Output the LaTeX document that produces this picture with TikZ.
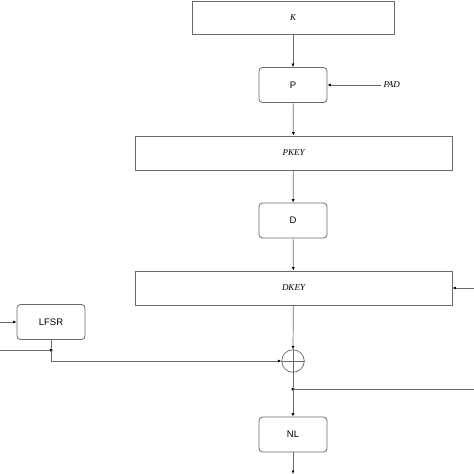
\documentclass[tikz,border=0pt]{standalone}
\usepackage{fontspec}
\setmainfont{Liberation Serif}
\setsansfont{Liberation Sans}
\usetikzlibrary{arrows.meta}
\definecolor{ln}{HTML}{6A6A6A}
\begin{document}
\begin{tikzpicture}[x=1pt,y=-1pt,
  wide/.style={draw=ln, line width=0.8pt, minimum width=317pt, minimum height=34pt, inner sep=0pt, font=\fontsize{9}{10}\selectfont\itshape},
  small/.style={draw=ln, line width=0.8pt, rounded corners=3.5pt, minimum width=68pt, minimum height=35pt, inner sep=0pt, font=\fontsize{9.5}{11}\sffamily},
  conn/.style={draw=ln, line width=0.7pt, -{Latex[length=3.5pt,width=3pt,color=black]}},
  plain/.style={draw=ln, line width=0.7pt},
  dot/.style={circle, fill=black, inner sep=0pt, minimum size=3.5pt}]
\useasboundingbox (0,0) rectangle (474,474);
\node[wide, minimum width=202pt, minimum height=33pt] (K) at (293,17.5) {K};
\node[small] (P) at (293,85) {P};
\node[font=\fontsize{9}{10}\selectfont\itshape, anchor=west, inner sep=0pt, outer sep=2.5pt] (PAD) at (381,85) {PAD};
\node[wide] (PKEY) at (293.5,153) {PKEY};
\node[small] (D) at (293,220.5) {D};
\node[wide] (DKEY) at (293.5,288) {DKEY};
\node[small] (LFSR) at (51,322) {LFSR};
\node[draw=ln, line width=0.7pt, circle, minimum size=22.5pt, inner sep=0pt] (X) at (293,361) {};
\draw[plain] (X.north) -- (X.south) (X.west) -- (X.east);
\node[small] (NL) at (293,434.5) {NL};
\coordinate (lin) at (0,322);
\coordinate (lfin) at (0,350);
\node[dot] (j1) at (51,350) {};
\coordinate (c1) at (51,361);
\coordinate (din) at (474,288);
\node[dot] (j2) at (293,389) {};
\coordinate (rout) at (474,389);
\coordinate (bot) at (293,474);

\draw[conn] (K) -- (P);
\draw[conn] (PAD) -- (P);
\draw[conn] (P) -- (PKEY);
\draw[conn] (PKEY) -- (D);
\draw[conn] (D) -- (DKEY);
\draw[conn] (din) -- (DKEY);
\draw[conn] (lin) -- (LFSR);
\draw[plain] (LFSR) -- (j1);
\draw[plain] (lfin) -- (j1);
\draw[conn] (j1.center) -- (c1) -- (X.west);
\draw[conn] (DKEY) -- (X.north);
\draw[plain] (X.south) -- (j2);
\draw[plain] (j2.center) -- (rout);
\draw[conn] (j2) -- (NL);
\draw[conn] (NL) -- (bot);
\end{tikzpicture}
\end{document}
